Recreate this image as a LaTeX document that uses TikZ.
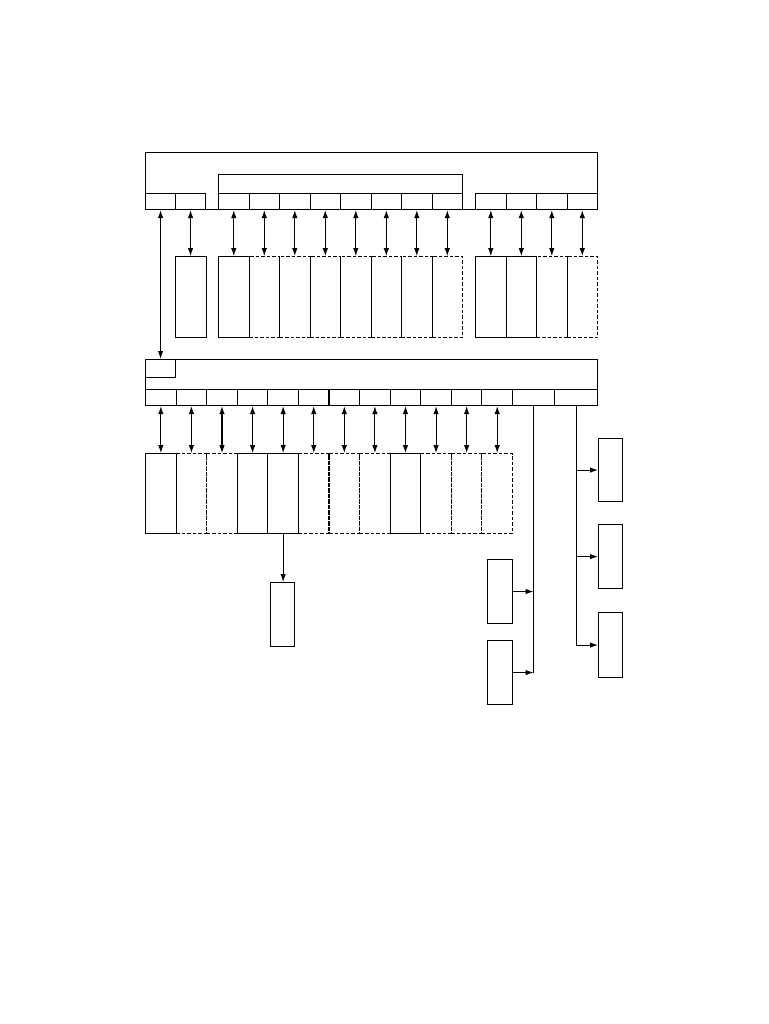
\documentclass[tikz,border=0pt]{standalone}
\usetikzlibrary{arrows.meta}

\tikzset{
	slot/.style={draw, inner sep=0pt, anchor=north west, minimum height=16pt},
	card/.style={draw, inner sep=0pt, anchor=north west},
	dcard/.style={card, dash pattern=on 3.5pt off 2pt},
	feed/.style={-{Latex[length=8pt,width=5.5pt]}},
	bus/.style={{Latex[length=8pt,width=5.5pt]}-{Latex[length=8pt,width=5.5pt]}}
}

\begin{document}
\begin{tikzpicture}[x=1pt, y=-1pt, line width=1.1pt]
		\useasboundingbox (0,0) rectangle (768,1024);

		\node[card, minimum width=452, minimum height=57] (host) at (145,152) {};
		\node[card, minimum width=244, minimum height=19] (hostbus) at (218,174) {};
		\foreach \x/\w [count=\i] in {145/30,175/30,218/30.5,248.5/30.5,279/30.5,309.5/30.5,340/30.5,370.5/30.5,401/30.5,431.5/30.5,475/30.5,505.5/30.5,536/30.5,566.5/30.5}
			\node[slot, minimum width=\w] (t\i) at (\x,193) {};

		\foreach \i/\s in {2/card,3/card,4/dcard,5/dcard,6/dcard,7/dcard,8/dcard,9/dcard,10/dcard,11/card,12/card,13/dcard,14/dcard} {
			\node[\s, minimum width=30.5, minimum height=81] (tc\i) at ([yshift=-46pt]t\i.south west) {};
			\draw[bus] (t\i.south) -- (t\i.south |- tc\i.north);
		}

		\node[card, minimum width=452, minimum height=46] (hub) at (145,359) {};
		\node[card, minimum width=30, minimum height=18] (tag) at (145,359) {};
		\draw[bus] (t1.south) -- (t1.south |- tag.north);

		\foreach \k in {1,...,12}
			\node[slot, minimum width=30.58] (l\k) at ({145+30.58*(\k-1)},389) {};
		\node[slot, minimum width=42] (l13) at (512,389) {};
		\node[slot, minimum width=43] (l14) at (554,389) {};

		\foreach \i/\s in {1/card,2/dcard,3/dcard,4/card,5/card,6/dcard,7/dcard,8/dcard,9/card,10/dcard,11/dcard,12/dcard} {
			\node[\s, minimum width=30.58, minimum height=80] (lc\i) at ([yshift=-47pt]l\i.south west) {};
			\draw[bus] (l\i.south) -- (l\i.south |- lc\i.north);
		}

		\node[card, minimum width=24, minimum height=64] (disk) at (270,582) {};
		\draw[feed] (lc5.south) -- (lc5.south |- disk.north);

		\node[card, minimum width=25, minimum height=64] (inA) at (487,559) {};
		\node[card, minimum width=25, minimum height=64] (inB) at (487,640) {};
		\coordinate (lend) at (l13.south |- inB.east);
		\draw (l13.south) -- (lend);
		\draw[feed] (inA.east) -- (inA.east -| l13.south);
		\draw[feed] (inB.east) -- (lend);

		\node[card, minimum width=24, minimum height=63] (outC) at (598,438) {};
		\node[card, minimum width=24, minimum height=64] (outD) at (598,524) {};
		\node[card, minimum width=24, minimum height=65] (outE) at (598,612) {};
		\coordinate (rend) at (l14.south |- outE.west);
		\draw (l14.south) -- (rend);
		\draw[feed] (l14.south |- outC.west) -- (outC.west);
		\draw[feed] (l14.south |- outD.west) -- (outD.west);
		\draw[feed] (rend) -- (outE.west);
	\end{tikzpicture}
\end{document}
